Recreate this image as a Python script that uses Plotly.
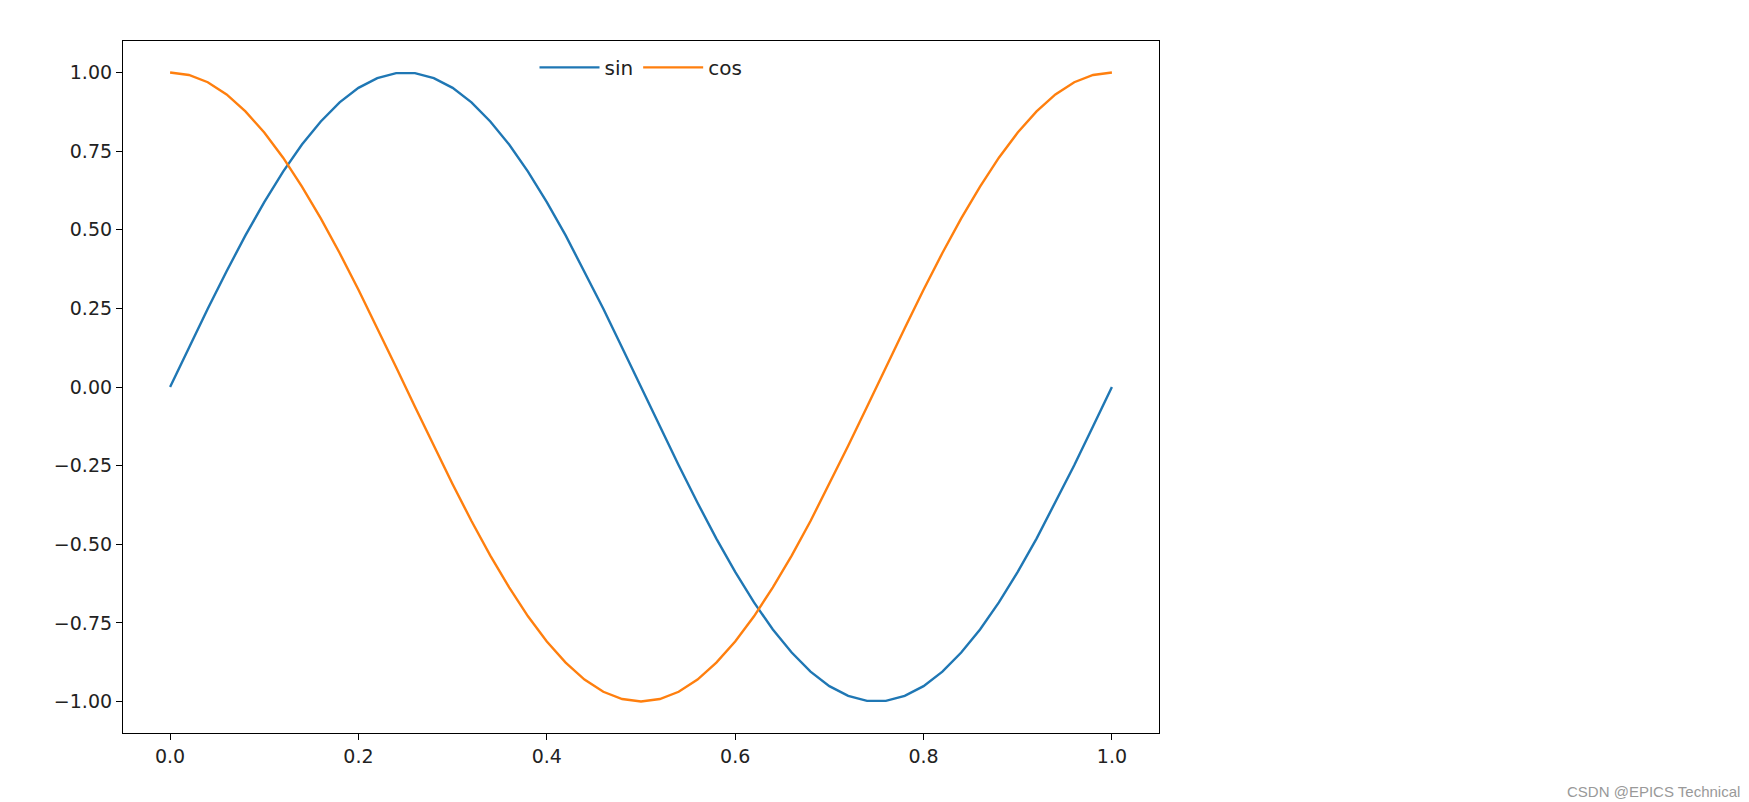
import plotly.graph_objects as go

# sample points
x_vals = [round(i * 0.02, 2) for i in range(51)]
sin_vals = [0.0, 0.125, 0.249, 0.368, 0.482, 0.588, 0.685, 0.771, 0.844, 0.905, 0.951,
            0.982, 0.998, 0.998, 0.982, 0.951, 0.905, 0.844, 0.771, 0.685, 0.588,
            0.482, 0.368, 0.249, 0.125, 0.0, -0.125, -0.249, -0.368, -0.482, -0.588,
            -0.685, -0.771, -0.844, -0.905, -0.951, -0.982, -0.998, -0.998, -0.982, -0.951,
            -0.905, -0.844, -0.771, -0.685, -0.588, -0.482, -0.368, -0.249, -0.125, 0.0]
cos_vals = [1.0, 0.992, 0.969, 0.930, 0.876, 0.809, 0.729, 0.637, 0.536, 0.426, 0.309,
            0.187, 0.063, -0.063, -0.187, -0.309, -0.426, -0.536, -0.637, -0.729, -0.809,
            -0.876, -0.930, -0.969, -0.992, -1.0, -0.992, -0.969, -0.930, -0.876, -0.809,
            -0.729, -0.637, -0.536, -0.426, -0.309, -0.187, -0.063, 0.063, 0.187, 0.309,
            0.426, 0.536, 0.637, 0.729, 0.809, 0.876, 0.930, 0.969, 0.992, 1.0]
y_ticks = [-1.0, -0.75, -0.5, -0.25, 0.0, 0.25, 0.5, 0.75, 1.0]
x_ticks = [0.0, 0.2, 0.4, 0.6, 0.8, 1.0]

fig = go.Figure()
fig.add_trace(go.Scatter(x=x_vals, y=sin_vals, mode="lines", name="sin",
                         line=dict(color="#1f77b4", width=2.4)))
fig.add_trace(go.Scatter(x=x_vals, y=cos_vals, mode="lines", name="cos",
                         line=dict(color="#ff7f0e", width=2.4)))

axis_style = dict(showgrid=False, zeroline=False, showline=True, mirror=True,
                  linecolor="black", linewidth=1.2, ticks="outside", ticklen=6,
                  tickcolor="black", tickfont=dict(size=19, color="#222"))

fig.update_layout(
    width=1749, height=802,
    margin=dict(l=115, r=598, t=33, b=77),
    paper_bgcolor="white", plot_bgcolor="white",
    font=dict(family="DejaVu Sans"),
    legend=dict(orientation="h", x=0.5, xanchor="center", y=0.99, yanchor="top",
                font=dict(size=20, color="#222"), itemwidth=60, tracegroupgap=30,
                bgcolor="rgba(0,0,0,0)"),
    xaxis=dict(range=[-0.05, 1.05], tickvals=x_ticks,
               ticktext=[f"{v:.1f}" for v in x_ticks], **axis_style),
    yaxis=dict(range=[-1.1, 1.1], tickvals=y_ticks,
               ticktext=[f"{v:.2f}".replace("-", "\u2212") for v in y_ticks], **axis_style),
)

fig.add_annotation(text="CSDN @EPICS Technical", xref="paper", yref="paper",
                   x=1.563, y=-0.085, xanchor="right", yanchor="middle", showarrow=False,
                   font=dict(size=15, color="#999", family="Liberation Sans"))

fig.write_html("out.html")
